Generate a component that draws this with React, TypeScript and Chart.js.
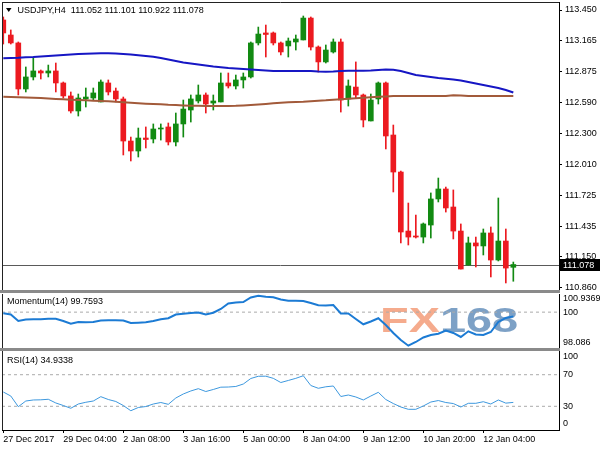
import React, { useEffect, useRef } from "react";
import { Chart, registerables } from "chart.js";

Chart.register(...registerables);

const FONT = '"Liberation Sans", Arial, sans-serif';

// ---------- data ----------
const xTickIndex = [0, 8, 16, 24, 32, 40, 48, 56, 64];
const xTickLabels = [
  "27 Dec 2017", "29 Dec 04:00", "2 Jan 08:00", "3 Jan 16:00", "5 Jan 00:00",
  "8 Jan 04:00", "9 Jan 12:00", "10 Jan 20:00", "12 Jan 04:00",
];
const priceTicks = [113.45, 113.165, 112.875, 112.59, 112.3, 112.01, 111.725, 111.435, 111.15, 110.86];

const opens = [
  113.357, 113.217, 113.143, 112.714, 112.826, 112.882, 112.863, 112.882, 112.770, 112.649,
  112.509, 112.621, 112.630, 112.593, 112.770, 112.695, 112.621, 112.229, 112.136, 112.257,
  112.248, 112.341, 112.360, 112.220, 112.388, 112.518, 112.602, 112.658, 112.583, 112.593,
  112.770, 112.742, 112.798, 112.826, 113.143, 113.236, 113.236, 113.143, 113.115, 113.152,
  113.171, 113.375, 113.105, 112.966, 113.059, 113.152, 112.621, 112.732, 112.658, 112.416,
  112.621, 112.770, 112.285, 111.940, 111.390, 111.344, 111.334, 111.446, 111.689, 111.782,
  111.614, 111.390, 111.073, 111.279, 111.251, 111.372, 111.120, 111.297, 111.052,
];
const highs = [
  113.385, 113.264, 113.152, 112.919, 113.003, 112.891, 112.937, 112.956, 112.779, 112.686,
  112.667, 112.723, 112.723, 112.798, 112.798, 112.723, 112.639, 112.266, 112.350, 112.360,
  112.388, 112.388, 112.397, 112.490, 112.611, 112.658, 112.751, 112.677, 112.658, 112.863,
  112.863, 112.844, 112.863, 113.152, 113.291, 113.310, 113.245, 113.152, 113.189, 113.217,
  113.394, 113.385, 113.115, 113.124, 113.180, 113.180, 112.798, 112.966, 112.667, 112.667,
  112.779, 112.779, 112.378, 111.949, 111.651, 111.539, 111.465, 111.745, 111.884, 111.800,
  111.773, 111.456, 111.334, 111.334, 111.409, 111.428, 111.698, 111.409, 111.101,
];
const lows = [
  113.133, 113.133, 112.658, 112.686, 112.798, 112.807, 112.826, 112.686, 112.630, 112.490,
  112.462, 112.546, 112.611, 112.593, 112.658, 112.593, 112.099, 112.043, 112.080, 112.164,
  112.211, 112.238, 112.192, 112.183, 112.266, 112.406, 112.583, 112.490, 112.518, 112.593,
  112.723, 112.714, 112.723, 112.816, 113.124, 113.012, 113.124, 113.031, 113.012, 113.077,
  113.171, 113.077, 112.872, 112.956, 113.049, 112.499, 112.555, 112.630, 112.360, 112.416,
  112.574, 112.155, 111.754, 111.279, 111.260, 111.325, 111.279, 111.325, 111.661, 111.567,
  111.316, 111.036, 111.073, 111.055, 111.167, 110.962, 111.111, 110.906, 110.922,
];
const closes = [
  113.236, 113.143, 112.714, 112.826, 112.882, 112.863, 112.882, 112.770, 112.649, 112.509,
  112.630, 112.639, 112.677, 112.779, 112.686, 112.621, 112.229, 112.136, 112.257, 112.243,
  112.341, 112.350, 112.220, 112.388, 112.527, 112.621, 112.658, 112.574, 112.602, 112.770,
  112.742, 112.798, 112.826, 113.143, 113.226, 113.222, 113.143, 113.059, 113.161, 113.180,
  113.375, 113.105, 112.966, 113.077, 113.152, 112.611, 112.742, 112.658, 112.425, 112.611,
  112.770, 112.276, 111.940, 111.381, 111.334, 111.334, 111.456, 111.689, 111.782, 111.605,
  111.390, 111.036, 111.279, 111.251, 111.372, 111.120, 111.297, 111.045, 111.078,
];
const maBlue = [
  113.000, 113.003, 113.005, 113.009, 113.012, 113.017, 113.021, 113.026, 113.031, 113.035,
  113.040, 113.042, 113.045, 113.046, 113.046, 113.045, 113.040, 113.035, 113.028, 113.021,
  113.015, 113.003, 112.989, 112.975, 112.961, 112.951, 112.942, 112.933, 112.923, 112.916,
  112.909, 112.905, 112.900, 112.895, 112.891, 112.886, 112.881, 112.881, 112.881, 112.881,
  112.881, 112.881, 112.877, 112.875, 112.877, 112.881, 112.884, 112.884, 112.884, 112.886,
  112.891, 112.895, 112.894, 112.881, 112.863, 112.844, 112.835, 112.826, 112.816, 112.810,
  112.802, 112.793, 112.779, 112.765, 112.751, 112.737, 112.723, 112.705, 112.681,
];
const maBrown = [
  112.642, 112.639, 112.637, 112.635, 112.633, 112.630, 112.625, 112.621, 112.618, 112.614,
  112.611, 112.608, 112.605, 112.602, 112.599, 112.595, 112.590, 112.586, 112.581, 112.577,
  112.574, 112.571, 112.567, 112.565, 112.561, 112.558, 112.557, 112.555, 112.555, 112.555,
  112.555, 112.557, 112.561, 112.565, 112.569, 112.574, 112.580, 112.585, 112.590, 112.593,
  112.595, 112.600, 112.605, 112.608, 112.613, 112.618, 112.622, 112.627, 112.632, 112.636,
  112.641, 112.645, 112.649, 112.649, 112.649, 112.649, 112.649, 112.649, 112.649, 112.649,
  112.656, 112.653, 112.649, 112.649, 112.649, 112.649, 112.649, 112.649, 112.649,
];
const momentum = [
  99.934, 99.866, 99.495, 99.581, 99.592, 99.592, 99.626, 99.626, 99.495, 99.341,
  99.438, 99.421, 99.438, 99.524, 99.535, 99.535, 99.524, 99.381, 99.398, 99.421,
  99.495, 99.592, 99.655, 99.866, 99.911, 99.951, 99.980, 99.866, 99.968, 100.181,
  100.492, 100.550, 100.578, 100.835, 100.937, 100.880, 100.846, 100.721, 100.646, 100.646,
  100.635, 100.521, 100.390, 100.379, 100.407, 99.923, 99.923, 99.609, 99.307, 99.467,
  99.649, 99.267, 98.811, 98.412, 98.086, 98.298, 98.555, 98.697, 98.771, 98.953,
  98.811, 98.583, 98.908, 98.725, 98.697, 98.868, 99.438, 99.666, 99.759,
];
const rsi = [
  48.1, 43.0, 29.5, 36.7, 38.0, 38.2, 38.9, 34.2, 31.0, 27.5,
  32.9, 35.1, 36.7, 42.2, 38.6, 36.1, 31.0, 24.4, 28.5, 29.7,
  32.9, 34.8, 32.5, 40.5, 45.6, 49.4, 52.3, 48.7, 51.3, 54.2,
  54.4, 55.1, 58.2, 65.2, 68.0, 68.1, 65.4, 60.1, 62.7, 65.4,
  68.7, 56.3, 52.8, 54.7, 55.7, 42.4, 44.3, 41.8, 38.0, 43.0,
  47.7, 38.6, 33.5, 29.1, 26.2, 26.2, 30.4, 35.4, 37.3, 34.8,
  33.5, 29.1, 33.8, 33.8, 35.8, 32.9, 38.0, 34.0, 34.93,
];
const momentumLevels = [100];
const rsiLevels = [70, 30];
const momentumTicks = [100.9369, 100, 98.086];
const momentumTickLabels = ["100.9369", "100", "98.086"];
const rsiTicks = [100, 70, 30, 0];
const rsiTickLabels = ["100", "70", "30", "0"];
const lastPrice = 111.078;
const lastPriceLabel = "111.078";
const titleMain = "USDJPY,H4  111.052 111.101 110.922 111.078";
const titleMomentum = "Momentum(14) 99.7593";
const titleRsi = "RSI(14) 34.9338";

// ---------- styling ----------
const GREEN = "#128a12";
const RED = "#ec1a20";
const MA_BLUE = "#1616c4";
const MA_BROWN = "#a25a3a";
const MOM_COLOR = "#1c7bd4";
const RSI_COLOR = "#3d98de";
const LEVEL_COLOR = "#ababab";
const BAND = "#8a8a8a";
const X_MIN = -0.173;
const X_MAX = 74.09;

function xAxis(show: boolean): any {
  const ax: any = {
    type: "linear",
    min: X_MIN,
    max: X_MAX,
    offset: false,
    display: show,
    grid: { display: true, drawOnChartArea: false, drawTicks: true, tickLength: 3, color: "#000" },
    border: { display: true, color: "#000", width: 1 },
    ticks: {
      autoSkip: false,
      maxRotation: 0,
      minRotation: 0,
      align: "start",
      padding: 1,
      color: "#000",
      font: { family: FONT, size: 9 },
      callback: (v: number) => {
        const k = xTickIndex.indexOf(v);
        return k >= 0 ? xTickLabels[k] : "";
      },
    },
    afterBuildTicks: (s: any) => {
      s.ticks = xTickIndex.map((v) => ({ value: v }));
    },
  };
  if (show) {
    ax.afterFit = (s: any) => {
      s.height = 20;
      s.paddingLeft = 0;
      s.paddingRight = 0;
    };
  }
  return ax;
}

function sideAxis(min: number, max: number): any {
  return {
    position: "right",
    min,
    max,
    beginAtZero: false,
    grid: { display: true, drawOnChartArea: false, drawTicks: false },
    border: { display: true, color: "#000", width: 1 },
    ticks: { display: false },
    afterFit: (s: any) => {
      s.width = 41;
      s.paddingTop = 0;
      s.paddingBottom = 0;
    },
  };
}

function framePlugin(top: boolean, band: boolean): any {
  return {
    id: "frame",
    afterDraw(chart: any) {
      const { ctx, chartArea: a } = chart;
      ctx.save();
      ctx.strokeStyle = "#222";
      ctx.lineWidth = 1;
      ctx.beginPath();
      ctx.moveTo(a.left + 0.5, a.top);
      ctx.lineTo(a.left + 0.5, a.bottom);
      if (top) {
        ctx.moveTo(a.left, a.top + 0.5);
        ctx.lineTo(a.right, a.top + 0.5);
      }
      ctx.stroke();
      if (band) {
        ctx.fillStyle = BAND;
        ctx.fillRect(0, a.bottom, a.right + 1, 3);
      }
      ctx.restore();
    },
  };
}

function titlePlugin(text: string, x: number, y: number, triangle: boolean): any {
  return {
    id: "title_" + text.slice(0, 3),
    afterDraw(chart: any) {
      const { ctx } = chart;
      ctx.save();
      ctx.fillStyle = "#000";
      ctx.font = `9px ${FONT}`;
      ctx.textAlign = "left";
      ctx.textBaseline = "middle";
      if (triangle) {
        ctx.beginPath();
        ctx.moveTo(6, 8);
        ctx.lineTo(11.5, 8);
        ctx.lineTo(8.75, 12);
        ctx.closePath();
        ctx.fill();
      }
      ctx.fillText(text, x, y);
      ctx.restore();
    },
  };
}

function sideLabels(values: number[], labels: string[], mTop: number, mBottom: number): any {
  return {
    id: "sideLabels",
    afterDraw(chart: any) {
      const { ctx, chartArea: a } = chart;
      const s = chart.scales.y;
      ctx.save();
      ctx.font = `9px ${FONT}`;
      ctx.fillStyle = "#000";
      ctx.textAlign = "left";
      ctx.textBaseline = "middle";
      values.forEach((v, i) => {
        let y = s.getPixelForValue(v);
        y = Math.min(Math.max(y, a.top + mTop), a.bottom - mBottom);
        ctx.fillText(labels[i], a.right + 4, y);
      });
      ctx.restore();
    },
  };
}

const priceLinePlugin: any = {
  id: "priceLine",
  beforeDatasetsDraw(chart: any) {
    const { ctx, chartArea: a } = chart;
    const y = Math.round(chart.scales.y.getPixelForValue(lastPrice)) + 0.5;
    ctx.save();
    ctx.strokeStyle = "#5a5a5a";
    ctx.lineWidth = 1;
    ctx.beginPath();
    ctx.moveTo(a.left, y);
    ctx.lineTo(a.right, y);
    ctx.stroke();
    ctx.restore();
  },
  afterDraw(chart: any) {
    const { ctx, chartArea: a } = chart;
    const y = chart.scales.y.getPixelForValue(lastPrice);
    ctx.save();
    ctx.fillStyle = "#000";
    ctx.fillRect(a.right + 1, Math.round(y) - 6, 40, 12);
    ctx.fillStyle = "#fff";
    ctx.font = `9px ${FONT}`;
    ctx.textAlign = "left";
    ctx.textBaseline = "middle";
    ctx.fillText(lastPriceLabel, a.right + 4, y + 0.5);
    ctx.restore();
  },
};

const watermarkPlugin: any = {
  id: "watermark",
  beforeDatasetsDraw(chart: any) {
    const { ctx } = chart;
    ctx.save();
    ctx.font = `bold 35px ${FONT}`;
    ctx.textBaseline = "alphabetic";
    ctx.textAlign = "left";
    ctx.translate(380, 39);
    ctx.scale(1.34, 1);
    ctx.fillStyle = "rgba(242,150,112,0.8)";
    ctx.fillText("FX", 0, 0);
    const w = ctx.measureText("FX").width;
    ctx.fillStyle = "rgba(92,138,184,0.8)";
    ctx.fillText("168", w, 0);
    ctx.restore();
  },
};

const common: any = {
  responsive: false,
  animation: false,
  events: [],
  plugins: { legend: { display: false }, tooltip: { enabled: false } },
};

function levelData(v: number) {
  return [
    { x: X_MIN, y: v },
    { x: X_MAX, y: v },
  ];
}

export default function App() {
  const r1 = useRef<HTMLCanvasElement>(null);
  const r2 = useRef<HTMLCanvasElement>(null);
  const r3 = useRef<HTMLCanvasElement>(null);

  useEffect(() => {
    Chart.defaults.font.family = FONT;
    Chart.defaults.font.size = 9;
    Chart.defaults.color = "#000";

    const candleColors = opens.map((o, i) => (closes[i] >= o ? GREEN : RED));

    const main = new Chart(r1.current as HTMLCanvasElement, {
      type: "bar",
      data: {
        datasets: [
          {
            type: "line",
            data: maBlue.map((v, i) => ({ x: i, y: v })),
            borderColor: MA_BLUE,
            borderWidth: 2,
            pointRadius: 0,
            tension: 0,
            order: 0,
          } as any,
          {
            type: "line",
            data: maBrown.map((v, i) => ({ x: i, y: v })),
            borderColor: MA_BROWN,
            borderWidth: 2,
            pointRadius: 0,
            tension: 0,
            order: 0,
          } as any,
          {
            type: "bar",
            data: opens.map((o, i) => ({ x: i, y: [o, closes[i]] })),
            backgroundColor: candleColors,
            barThickness: 5,
            grouped: false,
            minBarLength: 1,
            borderWidth: 0,
            order: 1,
          } as any,
          {
            type: "bar",
            data: lows.map((l, i) => ({ x: i, y: [l, highs[i]] })),
            backgroundColor: candleColors,
            barThickness: 1,
            grouped: false,
            borderWidth: 0,
            order: 2,
          } as any,
        ],
      },
      options: {
        ...common,
        layout: { padding: { top: 2, left: 2, bottom: 3, right: 0 } },
        scales: {
          x: xAxis(false),
          y: {
            position: "right",
            min: 110.8405,
            max: 113.5246,
            beginAtZero: false,
            afterBuildTicks: (s: any) => {
              s.ticks = priceTicks.map((v) => ({ value: v }));
            },
            afterFit: (s: any) => {
              s.width = 41;
              s.paddingTop = 0;
              s.paddingBottom = 0;
            },
            grid: { display: true, drawOnChartArea: false, drawTicks: true, tickLength: 3, color: "#000" },
            border: { display: true, color: "#000", width: 1 },
            ticks: {
              padding: 3,
              color: "#000",
              font: { family: FONT, size: 9 },
              callback: (v: any) => Number(v).toFixed(3),
            },
          },
        },
      } as any,
      plugins: [priceLinePlugin, framePlugin(true, true), titlePlugin(titleMain, 17.5, 10.5, true)],
    });

    const mom = new Chart(r2.current as HTMLCanvasElement, {
      type: "line",
      data: {
        datasets: [
          {
            data: momentum.map((v, i) => ({ x: i, y: v })),
            borderColor: MOM_COLOR,
            borderWidth: 2,
            pointRadius: 0,
            tension: 0,
            order: 0,
          },
          ...momentumLevels.map((lv) => ({
            data: levelData(lv),
            borderColor: LEVEL_COLOR,
            borderWidth: 1,
            borderDash: [3, 3],
            pointRadius: 0,
            order: 1,
          })),
        ] as any,
      },
      options: {
        ...common,
        layout: { padding: { top: 1, left: 2, bottom: 3, right: 0 } },
        scales: { x: xAxis(false), y: sideAxis(97.955, 101.034) },
      } as any,
      plugins: [
        watermarkPlugin,
        framePlugin(false, true),
        titlePlugin(titleMomentum, 7, 8.5, false),
        sideLabels(momentumTicks, momentumTickLabels, 4.5, 5),
      ],
    });

    const rsiChart = new Chart(r3.current as HTMLCanvasElement, {
      type: "line",
      data: {
        datasets: [
          {
            data: rsi.map((v, i) => ({ x: i, y: v })),
            borderColor: RSI_COLOR,
            borderWidth: 1,
            pointRadius: 0,
            tension: 0,
            order: 0,
          },
          ...rsiLevels.map((lv) => ({
            data: levelData(lv),
            borderColor: LEVEL_COLOR,
            borderWidth: 1,
            borderDash: [3, 3],
            pointRadius: 0,
            order: 1,
          })),
        ] as any,
      },
      options: {
        ...common,
        layout: { padding: { top: 0, left: 2, bottom: 0, right: 0 } },
        scales: { x: xAxis(true), y: sideAxis(0, 100) },
      } as any,
      plugins: [
        framePlugin(false, false),
        titlePlugin(titleRsi, 7, 9.5, false),
        sideLabels(rsiTicks, rsiTickLabels, 6, 6),
      ],
    });

    return () => {
      main.destroy();
      mom.destroy();
      rsiChart.destroy();
    };
  }, []);

  return (
    <div style={{ position: "absolute", left: 0, top: 0, width: 600, height: 450, background: "#fff" }}>
      <canvas ref={r1} width={600} height={293} style={{ position: "absolute", left: 0, top: 0 }} />
      <canvas ref={r2} width={600} height={58} style={{ position: "absolute", left: 0, top: 293 }} />
      <canvas ref={r3} width={600} height={99} style={{ position: "absolute", left: 0, top: 351 }} />
    </div>
  );
}
